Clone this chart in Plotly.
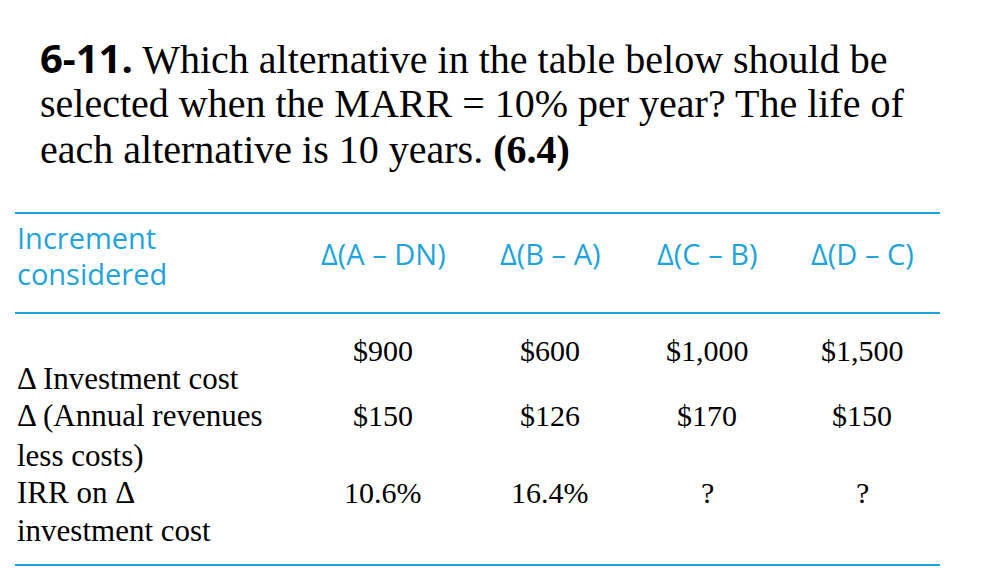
import plotly.graph_objects as go

columns = ["Δ(A – DN)", "Δ(B – A)", "Δ(C – B)", "Δ(D – C)"]
investment = ["$900", "$600", "$1,000", "$1,500"]
annual = ["$150", "$126", "$170", "$150"]
irr = ["10.6%", "16.4%", "?", "?"]
row_labels = ["Δ Investment cost", "Δ (Annual revenues", "less costs)",
              "IRR on Δ", "investment cost"]
title_lines = [
    "<b>6-11.</b> Which alternative in the table below should be",
    "selected when the MARR = 10% per year? The life of",
    "each alternative is 10 years. <b>(6.4)</b>",
]

BLUE = "#1fa3dc"
SERIF = "Liberation Serif"
SANS = "Open Sans"
OFF = 8  # page body margin

col_x = [383, 550, 707, 862]
fig = go.Figure()
ann = []

for i, line in enumerate(title_lines):
    txt = line.replace("<b>6-11.</b>", "<b><span style='font-family:Open Sans'>6-11.</span></b>")
    ann.append(dict(x=38, y=57 + i * 46, text=txt, xanchor="left", yanchor="middle",
                    font=dict(family=SERIF, size=40, color="black")))

ann.append(dict(x=15, y=237, text="Increment", xanchor="left", yanchor="middle",
                font=dict(family=SANS, size=29, color=BLUE)))
ann.append(dict(x=15, y=273, text="considered", xanchor="left", yanchor="middle",
                font=dict(family=SANS, size=29, color=BLUE)))
for x, c in zip(col_x, columns):
    ann.append(dict(x=x, y=253, text=c, xanchor="center", yanchor="middle",
                    font=dict(family=SANS, size=29, color=BLUE)))

for row_y, vals in zip([350, 415, 492], [investment, annual, irr]):
    for x, v in zip(col_x, vals):
        ann.append(dict(x=x, y=row_y, text=v, xanchor="center", yanchor="middle",
                        font=dict(family=SERIF, size=30, color="black")))

for y, lab in zip([378, 415, 455, 492, 530], row_labels):
    ann.append(dict(x=15, y=y, text=lab, xanchor="left", yanchor="middle",
                    font=dict(family=SERIF, size=31, color="black")))

for y in [213, 313, 565]:
    fig.add_shape(type="line", x0=15 - OFF, x1=940 - OFF, y0=y - OFF, y1=y - OFF,
                  line=dict(color=BLUE, width=2))

for a in ann:
    a["x"] -= OFF
    a["y"] -= OFF

fig.update_layout(
    width=984, height=582, margin=dict(l=0, r=0, t=0, b=0),
    plot_bgcolor="white", paper_bgcolor="white", showlegend=False,
    annotations=[dict(a, xref="x", yref="y", showarrow=False) for a in ann],
    xaxis=dict(range=[0, 984], visible=False, fixedrange=True),
    yaxis=dict(range=[582, 0], visible=False, fixedrange=True),
)
fig.write_html("out.html")
